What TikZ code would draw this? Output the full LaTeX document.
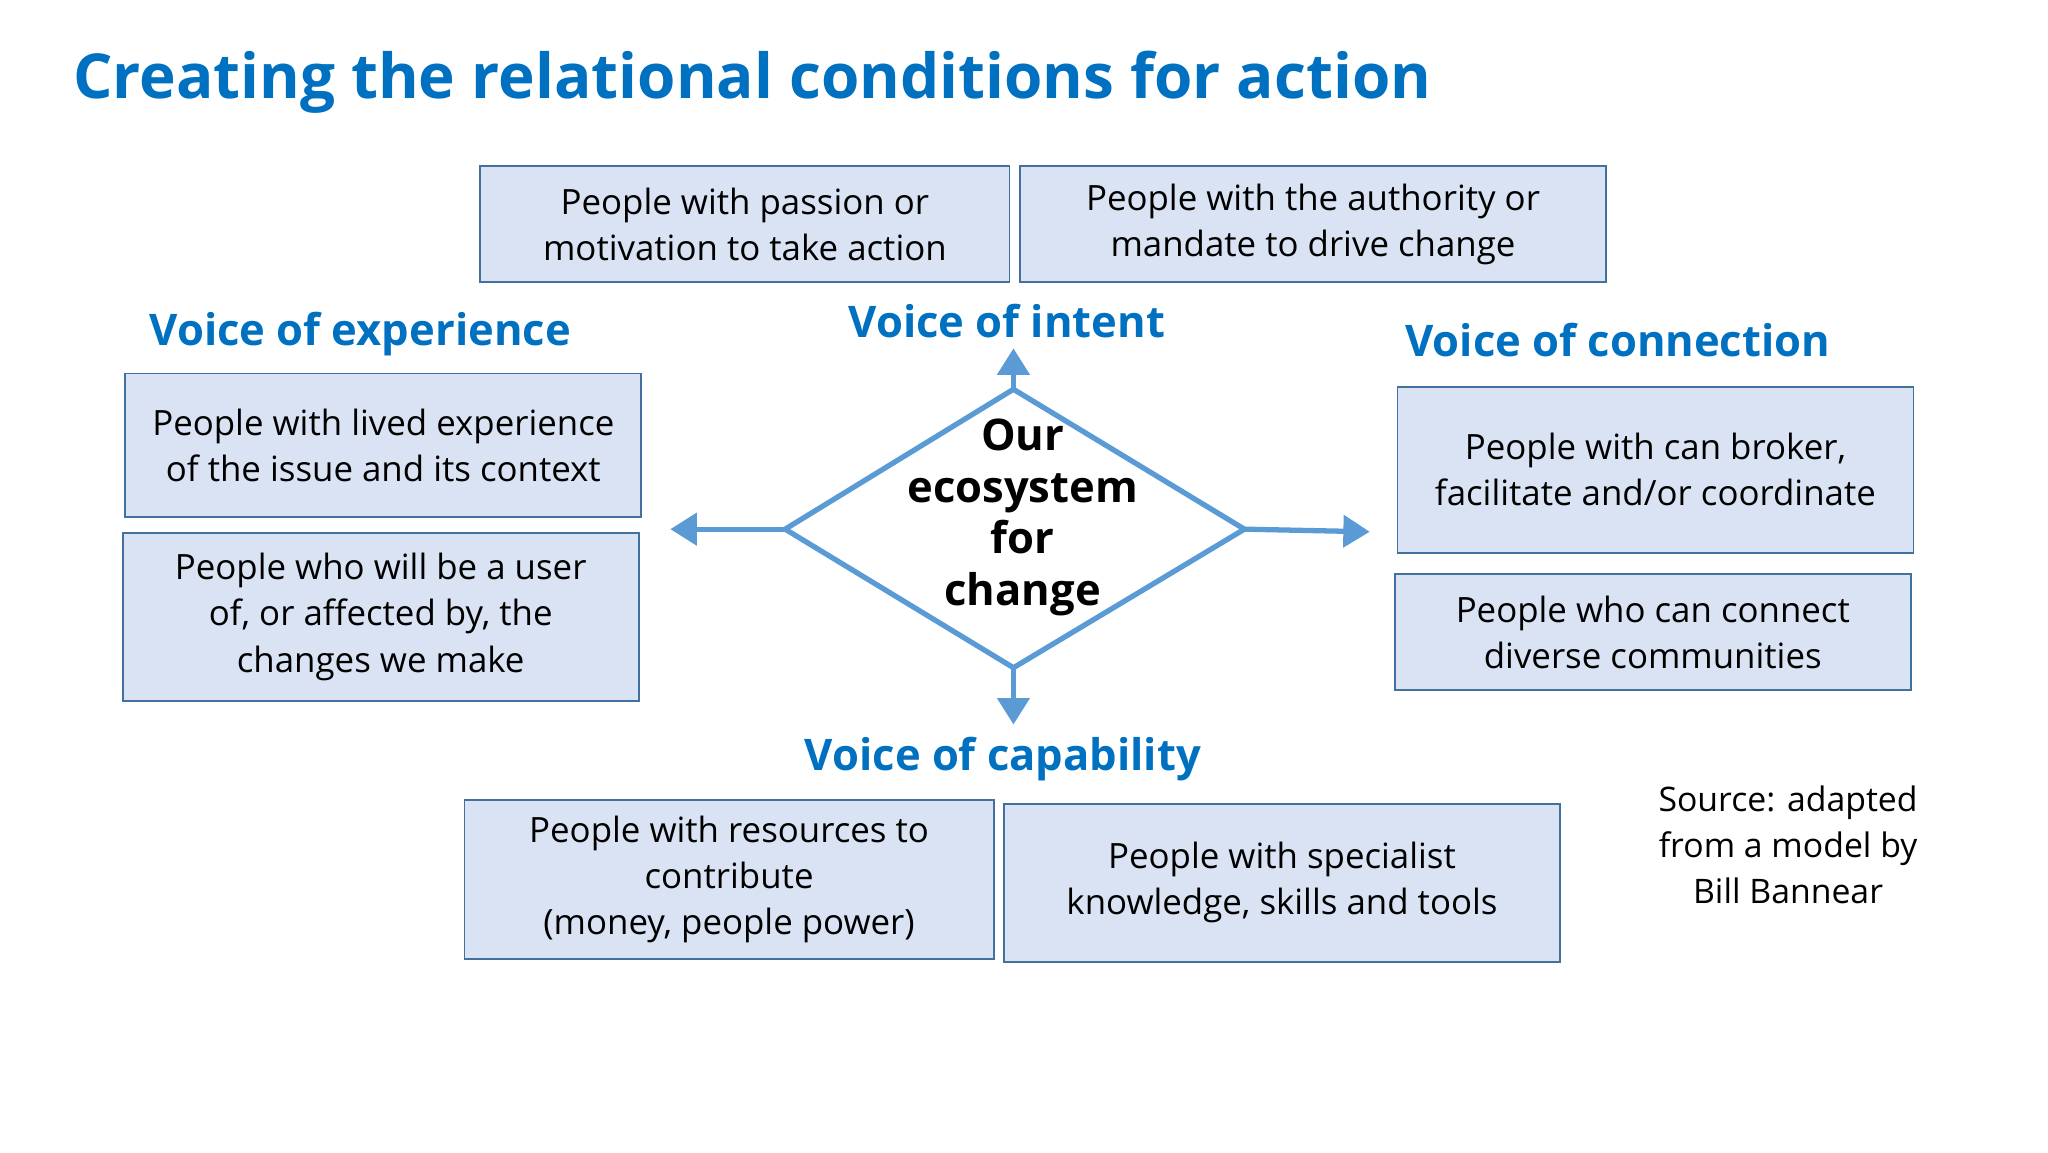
\documentclass[tikz,border=0pt]{standalone}
\usepackage{fontspec}
\setmainfont{Open Sans}
\usetikzlibrary{arrows.meta}
\definecolor{boxfill}{HTML}{DAE3F3}
\definecolor{boxline}{HTML}{41719C}
\definecolor{arr}{HTML}{5B9BD5}
\definecolor{ttl}{HTML}{0070C0}
\begin{document}
\begin{tikzpicture}[x=0.5pt,y=-0.5pt,
 box/.style={draw=boxline,fill=boxfill,line width=0.7pt,align=center,inner sep=0pt,font=\fontsize{13.2}{17.5}\selectfont},
 head/.style={text=ttl,font=\bfseries\fontsize{16.5}{22}\selectfont,inner sep=0pt},
 arw/.style={draw=arr,line width=2pt,-{Triangle[width=12pt,length=10pt]}}]
\useasboundingbox (0,0) rectangle (1552,873);
\fill[white] (0,0) rectangle (1552,873);
\node[anchor=west,text=ttl,font=\bfseries\fontsize{23.5}{30}\selectfont,inner sep=0pt] (title) at (55,62) {Creating the relational conditions for action};
\node[box,minimum width=200.5pt,minimum height=44pt] (passion) at (564.5,170) {People with passion or\\motivation to take action};
\node[box,minimum width=222pt,minimum height=44pt] (auth) at (995,170) {People with the authority or\\mandate to drive change};
\node[box,minimum width=195.5pt,minimum height=54.5pt] (lived) at (290.5,337.5) {People with lived experience\\of the issue and its context};
\node[box,minimum width=195.5pt,minimum height=63.5pt] (user) at (288.5,467.5) {People who will be a user\\of, or affected by, the\\changes we make};
\node[box,minimum width=195.5pt,minimum height=63pt] (broker) at (1254.5,356) {People with can broker,\\facilitate and/or coordinate};
\node[box,minimum width=195.5pt,minimum height=44pt] (connect) at (1252.5,479) {People who can connect\\diverse communities};
\node[box,minimum width=200.5pt,minimum height=60.5pt] (res) at (552.5,666.5) {People with resources to\\contribute\\(money, people power)};
\node[box,minimum width=210.5pt,minimum height=60pt] (spec) at (971.5,669) {People with specialist\\knowledge, skills and tools};
\node[head] (hexp) at (273,253) {Voice of experience};
\node[head] (hint) at (763,243) {Voice of intent};
\node[head] (hcon) at (1226,258) {Voice of connection};
\node[head] (hcap) at (760,575) {Voice of capability};
\node[align=center,font=\fontsize{12.8}{17.5}\selectfont,inner sep=0pt] (src) at (1355,640) {Source: adapted\\from a model by\\Bill Bannear};
\coordinate (dt) at (768,295); \coordinate (dl) at (595,401);
\coordinate (dr) at (943,401); \coordinate (db) at (768,506);
\draw[arr,line width=2pt,fill=white,line join=miter] (dt) -- (dr) -- (db) -- (dl) -- cycle;
\node[align=center,font=\bfseries\fontsize{16.5}{19.5}\selectfont,inner sep=0pt] (eco) at (775,392) {Our\\ecosystem\\for\\change};
\coordinate (at) at (768,264); \coordinate (al) at (508,401);
\coordinate (ar) at (1038,403); \coordinate (ab) at (768,549);
\draw[arw] (dt) -- (at);
\draw[arw] (dl) -- (al);
\draw[arw] (dr) -- (ar);
\draw[arw] (db) -- (ab);
\end{tikzpicture}
\end{document}
